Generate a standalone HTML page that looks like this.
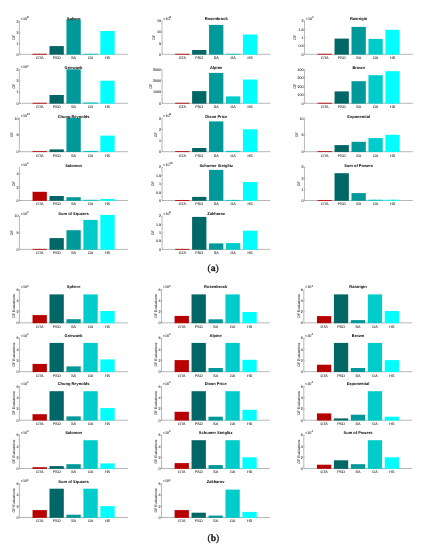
<!DOCTYPE html>
<html lang="en">
<head>
<meta charset="utf-8">
<title>Figure</title>
<style>
html,body{margin:0;padding:0;background:#fff;}
body{width:423px;height:550px;overflow:hidden;}
svg{display:block;text-rendering:geometricPrecision;}
.k{font-family:"Liberation Sans",Arial,sans-serif;font-size:3.7px;fill:#303030;stroke:#303030;stroke-width:0.08px;}
.y{font-family:"Liberation Sans",Arial,sans-serif;font-size:3.5px;fill:#303030;stroke:#303030;stroke-width:0.07px;}
.t{font-family:"Liberation Sans",Arial,sans-serif;font-size:4.0px;font-weight:bold;fill:#000;}
.l{font-family:"Liberation Serif","DejaVu Serif",serif;font-size:9.6px;fill:#111;stroke:#111;stroke-width:0.25px;}
</style>
</head>
<body>
<svg width="423" height="550" viewBox="0 0 423 550">
<rect width="423" height="550" fill="#fff"/>
<g><path d="M19.4 20.9V54.3H127.8" fill="none" stroke="#6e6e6e" stroke-width="0.5"/><rect x="32.55" y="53.8" width="14.3" height="0.85" fill="#b80000"/><rect x="49.5" y="46.1" width="14.3" height="8.55" fill="#006666"/><rect x="66.45" y="19.4" width="14.3" height="35.25" fill="#009999"/><rect x="83.4" y="53.8" width="14.3" height="0.85" fill="#00cccc"/><rect x="100.35" y="31" width="14.3" height="23.65" fill="#00ffff"/><text x="18.5" y="55.7" text-anchor="end" class="k">0</text><text x="18.5" y="44.93" text-anchor="end" class="k">1</text><text x="18.5" y="34.15" text-anchor="end" class="k">2</text><text x="18.5" y="23.38" text-anchor="end" class="k">3</text><text x="39.7" y="59.2" text-anchor="middle" class="k">GTA</text><text x="56.65" y="59.2" text-anchor="middle" class="k">PSO</text><text x="73.6" y="59.2" text-anchor="middle" class="k">SA</text><text x="90.55" y="59.2" text-anchor="middle" class="k">GA</text><text x="107.5" y="59.2" text-anchor="middle" class="k">HS</text><path d="M19.4 54.3h1M19.4 43.53h1M19.4 32.75h1M19.4 21.98h1M39.7 54.3v-1M56.65 54.3v-1M73.6 54.3v-1M90.55 54.3v-1M107.5 54.3v-1" fill="none" stroke="#6e6e6e" stroke-width="0.4"/><text x="20.7" y="19.65" class="k"><tspan font-size="3.2">×</tspan><tspan dx="0.3">10</tspan><tspan dy="-1.5" font-size="2.7">8</tspan></text><text x="73.6" y="20.1" text-anchor="middle" class="t">Sphere</text><text transform="translate(14.5 37.6) rotate(-90)" text-anchor="middle" class="y">OF</text></g>
<g><path d="M162 20.9V54.3H270.4" fill="none" stroke="#6e6e6e" stroke-width="0.5"/><rect x="175.15" y="53.8" width="14.3" height="0.85" fill="#b80000"/><rect x="192.1" y="50" width="14.3" height="4.65" fill="#006666"/><rect x="209.05" y="24.9" width="14.3" height="29.75" fill="#009999"/><rect x="226" y="53.8" width="14.3" height="0.85" fill="#00cccc"/><rect x="242.95" y="34.5" width="14.3" height="20.15" fill="#00ffff"/><text x="161.1" y="55.7" text-anchor="end" class="k">0</text><text x="161.1" y="44.57" text-anchor="end" class="k">5</text><text x="161.1" y="33.43" text-anchor="end" class="k">10</text><text x="161.1" y="22.3" text-anchor="end" class="k">15</text><text x="182.3" y="59.2" text-anchor="middle" class="k">GTA</text><text x="199.25" y="59.2" text-anchor="middle" class="k">PSO</text><text x="216.2" y="59.2" text-anchor="middle" class="k">SA</text><text x="233.15" y="59.2" text-anchor="middle" class="k">GA</text><text x="250.1" y="59.2" text-anchor="middle" class="k">HS</text><path d="M162 54.3h1M162 43.17h1M162 32.03h1M162 20.9h1M182.3 54.3v-1M199.25 54.3v-1M216.2 54.3v-1M233.15 54.3v-1M250.1 54.3v-1" fill="none" stroke="#6e6e6e" stroke-width="0.4"/><text x="163.3" y="19.65" class="k"><tspan font-size="3.2">×</tspan><tspan dx="0.3">10</tspan><tspan dy="-1.5" font-size="2.7">8</tspan></text><text x="216.2" y="20.1" text-anchor="middle" class="t">Rosenbrock</text><text transform="translate(155.4 37.6) rotate(-90)" text-anchor="middle" class="y">OF</text></g>
<g><path d="M304.45 20.9V54.3H412.85" fill="none" stroke="#6e6e6e" stroke-width="0.5"/><rect x="317.6" y="53.8" width="14.3" height="0.85" fill="#b80000"/><rect x="334.55" y="38.6" width="14.3" height="16.05" fill="#006666"/><rect x="351.5" y="26.9" width="14.3" height="27.75" fill="#009999"/><rect x="368.45" y="38.9" width="14.3" height="15.75" fill="#00cccc"/><rect x="385.4" y="29.8" width="14.3" height="24.85" fill="#00ffff"/><text x="303.55" y="55.7" text-anchor="end" class="k">0</text><text x="303.55" y="47.35" text-anchor="end" class="k">0.5</text><text x="303.55" y="39" text-anchor="end" class="k">1</text><text x="303.55" y="30.65" text-anchor="end" class="k">1.5</text><text x="303.55" y="22.3" text-anchor="end" class="k">2</text><text x="324.75" y="59.2" text-anchor="middle" class="k">GTA</text><text x="341.7" y="59.2" text-anchor="middle" class="k">PSO</text><text x="358.65" y="59.2" text-anchor="middle" class="k">SA</text><text x="375.6" y="59.2" text-anchor="middle" class="k">GA</text><text x="392.55" y="59.2" text-anchor="middle" class="k">HS</text><path d="M304.45 54.3h1M304.45 45.95h1M304.45 37.6h1M304.45 29.25h1M304.45 20.9h1M324.75 54.3v-1M341.7 54.3v-1M358.65 54.3v-1M375.6 54.3v-1M392.55 54.3v-1" fill="none" stroke="#6e6e6e" stroke-width="0.4"/><text x="305.75" y="19.65" class="k"><tspan font-size="3.2">×</tspan><tspan dx="0.3">10</tspan><tspan dy="-1.5" font-size="2.7">4</tspan></text><text x="358.65" y="20.1" text-anchor="middle" class="t">Rastrigin</text><text transform="translate(296.25 37.6) rotate(-90)" text-anchor="middle" class="y">OF</text></g>
<g><path d="M19.4 69.5V103.3H127.8" fill="none" stroke="#6e6e6e" stroke-width="0.5"/><rect x="32.55" y="102.8" width="14.3" height="0.85" fill="#b80000"/><rect x="49.5" y="95" width="14.3" height="8.65" fill="#006666"/><rect x="66.45" y="69.3" width="14.3" height="34.35" fill="#009999"/><rect x="83.4" y="102.5" width="14.3" height="1.15" fill="#00cccc"/><rect x="100.35" y="80.7" width="14.3" height="22.95" fill="#00ffff"/><text x="18.5" y="104.7" text-anchor="end" class="k">0</text><text x="18.5" y="93.43" text-anchor="end" class="k">1</text><text x="18.5" y="82.17" text-anchor="end" class="k">2</text><text x="18.5" y="70.9" text-anchor="end" class="k">3</text><text x="39.7" y="108.2" text-anchor="middle" class="k">GTA</text><text x="56.65" y="108.2" text-anchor="middle" class="k">PSO</text><text x="73.6" y="108.2" text-anchor="middle" class="k">SA</text><text x="90.55" y="108.2" text-anchor="middle" class="k">GA</text><text x="107.5" y="108.2" text-anchor="middle" class="k">HS</text><path d="M19.4 103.3h1M19.4 92.03h1M19.4 80.77h1M19.4 69.5h1M39.7 103.3v-1M56.65 103.3v-1M73.6 103.3v-1M90.55 103.3v-1M107.5 103.3v-1" fill="none" stroke="#6e6e6e" stroke-width="0.4"/><text x="20.7" y="68.25" class="k"><tspan font-size="3.2">×</tspan><tspan dx="0.3">10</tspan><tspan dy="-1.5" font-size="2.7">4</tspan></text><text x="73.6" y="68.8" text-anchor="middle" class="t">Griewank</text><text transform="translate(14.5 86.4) rotate(-90)" text-anchor="middle" class="y">OF</text></g>
<g><path d="M162 69.5V103.3H270.4" fill="none" stroke="#6e6e6e" stroke-width="0.5"/><rect x="175.15" y="102.8" width="14.3" height="0.85" fill="#b80000"/><rect x="192.1" y="91.1" width="14.3" height="12.55" fill="#006666"/><rect x="209.05" y="72.9" width="14.3" height="30.75" fill="#009999"/><rect x="226" y="96.4" width="14.3" height="7.25" fill="#00cccc"/><rect x="242.95" y="79.5" width="14.3" height="24.15" fill="#00ffff"/><text x="161.1" y="104.7" text-anchor="end" class="k">0</text><text x="161.1" y="93.43" text-anchor="end" class="k">1000</text><text x="161.1" y="82.17" text-anchor="end" class="k">2000</text><text x="161.1" y="70.9" text-anchor="end" class="k">3000</text><text x="182.3" y="108.2" text-anchor="middle" class="k">GTA</text><text x="199.25" y="108.2" text-anchor="middle" class="k">PSO</text><text x="216.2" y="108.2" text-anchor="middle" class="k">SA</text><text x="233.15" y="108.2" text-anchor="middle" class="k">GA</text><text x="250.1" y="108.2" text-anchor="middle" class="k">HS</text><path d="M162 103.3h1M162 92.03h1M162 80.77h1M162 69.5h1M182.3 103.3v-1M199.25 103.3v-1M216.2 103.3v-1M233.15 103.3v-1M250.1 103.3v-1" fill="none" stroke="#6e6e6e" stroke-width="0.4"/><text x="216.2" y="68.8" text-anchor="middle" class="t">Alpine</text><text transform="translate(151.6 86.4) rotate(-90)" text-anchor="middle" class="y">OF</text></g>
<g><path d="M304.45 69.5V103.3H412.85" fill="none" stroke="#6e6e6e" stroke-width="0.5"/><rect x="317.6" y="102.8" width="14.3" height="0.85" fill="#b80000"/><rect x="334.55" y="91.4" width="14.3" height="12.25" fill="#006666"/><rect x="351.5" y="81.2" width="14.3" height="22.45" fill="#009999"/><rect x="368.45" y="75.2" width="14.3" height="28.45" fill="#00cccc"/><rect x="385.4" y="71.2" width="14.3" height="32.45" fill="#00ffff"/><text x="303.55" y="104.7" text-anchor="end" class="k">0</text><text x="303.55" y="96.25" text-anchor="end" class="k">100</text><text x="303.55" y="87.8" text-anchor="end" class="k">200</text><text x="303.55" y="79.35" text-anchor="end" class="k">300</text><text x="303.55" y="70.9" text-anchor="end" class="k">400</text><text x="324.75" y="108.2" text-anchor="middle" class="k">GTA</text><text x="341.7" y="108.2" text-anchor="middle" class="k">PSO</text><text x="358.65" y="108.2" text-anchor="middle" class="k">SA</text><text x="375.6" y="108.2" text-anchor="middle" class="k">GA</text><text x="392.55" y="108.2" text-anchor="middle" class="k">HS</text><path d="M304.45 103.3h1M304.45 94.85h1M304.45 86.4h1M304.45 77.95h1M304.45 69.5h1M324.75 103.3v-1M341.7 103.3v-1M358.65 103.3v-1M375.6 103.3v-1M392.55 103.3v-1" fill="none" stroke="#6e6e6e" stroke-width="0.4"/><text x="358.65" y="68.8" text-anchor="middle" class="t">Brown</text><text transform="translate(296.15 86.4) rotate(-90)" text-anchor="middle" class="y">OF</text></g>
<g><path d="M19.4 118.1V151.7H127.8" fill="none" stroke="#6e6e6e" stroke-width="0.5"/><rect x="32.55" y="151.2" width="14.3" height="0.85" fill="#b80000"/><rect x="49.5" y="149.4" width="14.3" height="2.65" fill="#006666"/><rect x="66.45" y="117.9" width="14.3" height="34.15" fill="#009999"/><rect x="83.4" y="150.9" width="14.3" height="1.15" fill="#00cccc"/><rect x="100.35" y="135.6" width="14.3" height="16.45" fill="#00ffff"/><text x="18.5" y="153.1" text-anchor="end" class="k">0</text><text x="18.5" y="136.3" text-anchor="end" class="k">5</text><text x="18.5" y="119.5" text-anchor="end" class="k">10</text><text x="39.7" y="156.6" text-anchor="middle" class="k">GTA</text><text x="56.65" y="156.6" text-anchor="middle" class="k">PSO</text><text x="73.6" y="156.6" text-anchor="middle" class="k">SA</text><text x="90.55" y="156.6" text-anchor="middle" class="k">GA</text><text x="107.5" y="156.6" text-anchor="middle" class="k">HS</text><path d="M19.4 151.7h1M19.4 134.9h1M19.4 118.1h1M39.7 151.7v-1M56.65 151.7v-1M73.6 151.7v-1M90.55 151.7v-1M107.5 151.7v-1" fill="none" stroke="#6e6e6e" stroke-width="0.4"/><text x="20.7" y="116.85" class="k"><tspan font-size="3.2">×</tspan><tspan dx="0.3">10</tspan><tspan dy="-1.5" font-size="2.7">12</tspan></text><text x="73.6" y="117.5" text-anchor="middle" class="t">Chung Reynolds</text><text transform="translate(12.8 134.9) rotate(-90)" text-anchor="middle" class="y">OF</text></g>
<g><path d="M162 118.1V151.7H270.4" fill="none" stroke="#6e6e6e" stroke-width="0.5"/><rect x="175.15" y="151.2" width="14.3" height="0.85" fill="#b80000"/><rect x="192.1" y="148" width="14.3" height="4.05" fill="#006666"/><rect x="209.05" y="121.4" width="14.3" height="30.65" fill="#009999"/><rect x="226" y="150.8" width="14.3" height="1.25" fill="#00cccc"/><rect x="242.95" y="129.3" width="14.3" height="22.75" fill="#00ffff"/><text x="161.1" y="153.1" text-anchor="end" class="k">0</text><text x="161.1" y="141.9" text-anchor="end" class="k">1</text><text x="161.1" y="130.7" text-anchor="end" class="k">2</text><text x="161.1" y="119.5" text-anchor="end" class="k">3</text><text x="182.3" y="156.6" text-anchor="middle" class="k">GTA</text><text x="199.25" y="156.6" text-anchor="middle" class="k">PSO</text><text x="216.2" y="156.6" text-anchor="middle" class="k">SA</text><text x="233.15" y="156.6" text-anchor="middle" class="k">GA</text><text x="250.1" y="156.6" text-anchor="middle" class="k">HS</text><path d="M162 151.7h1M162 140.5h1M162 129.3h1M162 118.1h1M182.3 151.7v-1M199.25 151.7v-1M216.2 151.7v-1M233.15 151.7v-1M250.1 151.7v-1" fill="none" stroke="#6e6e6e" stroke-width="0.4"/><text x="163.3" y="116.85" class="k"><tspan font-size="3.2">×</tspan><tspan dx="0.3">10</tspan><tspan dy="-1.5" font-size="2.7">8</tspan></text><text x="216.2" y="117.5" text-anchor="middle" class="t">Dixon Price</text><text transform="translate(157.1 134.9) rotate(-90)" text-anchor="middle" class="y">OF</text></g>
<g><path d="M304.45 118.1V151.7H412.85" fill="none" stroke="#6e6e6e" stroke-width="0.5"/><rect x="317.6" y="151.2" width="14.3" height="0.85" fill="#b80000"/><rect x="334.55" y="145.1" width="14.3" height="6.95" fill="#006666"/><rect x="351.5" y="141.8" width="14.3" height="10.25" fill="#009999"/><rect x="368.45" y="138.1" width="14.3" height="13.95" fill="#00cccc"/><rect x="385.4" y="134.8" width="14.3" height="17.25" fill="#00ffff"/><text x="303.55" y="153.1" text-anchor="end" class="k">0</text><text x="303.55" y="136.3" text-anchor="end" class="k">5</text><text x="303.55" y="119.5" text-anchor="end" class="k">10</text><text x="324.75" y="156.6" text-anchor="middle" class="k">GTA</text><text x="341.7" y="156.6" text-anchor="middle" class="k">PSO</text><text x="358.65" y="156.6" text-anchor="middle" class="k">SA</text><text x="375.6" y="156.6" text-anchor="middle" class="k">GA</text><text x="392.55" y="156.6" text-anchor="middle" class="k">HS</text><path d="M304.45 151.7h1M304.45 134.9h1M304.45 118.1h1M324.75 151.7v-1M341.7 151.7v-1M358.65 151.7v-1M375.6 151.7v-1M392.55 151.7v-1" fill="none" stroke="#6e6e6e" stroke-width="0.4"/><text x="358.65" y="117.5" text-anchor="middle" class="t">Exponential</text><text transform="translate(297.85 134.9) rotate(-90)" text-anchor="middle" class="y">OF</text></g>
<g><path d="M19.4 167V200.5H127.8" fill="none" stroke="#6e6e6e" stroke-width="0.5"/><rect x="32.55" y="191.8" width="14.3" height="9.05" fill="#b80000"/><rect x="49.5" y="196" width="14.3" height="4.85" fill="#006666"/><rect x="66.45" y="197.2" width="14.3" height="3.65" fill="#009999"/><rect x="83.4" y="199.8" width="14.3" height="1.05" fill="#00cccc"/><rect x="100.35" y="198.9" width="14.3" height="1.95" fill="#00ffff"/><text x="18.5" y="201.9" text-anchor="end" class="k">0</text><text x="18.5" y="188.5" text-anchor="end" class="k">2</text><text x="18.5" y="175.1" text-anchor="end" class="k">4</text><text x="39.7" y="205.4" text-anchor="middle" class="k">GTA</text><text x="56.65" y="205.4" text-anchor="middle" class="k">PSO</text><text x="73.6" y="205.4" text-anchor="middle" class="k">SA</text><text x="90.55" y="205.4" text-anchor="middle" class="k">GA</text><text x="107.5" y="205.4" text-anchor="middle" class="k">HS</text><path d="M19.4 200.5h1M19.4 187.1h1M19.4 173.7h1M39.7 200.5v-1M56.65 200.5v-1M73.6 200.5v-1M90.55 200.5v-1M107.5 200.5v-1" fill="none" stroke="#6e6e6e" stroke-width="0.4"/><text x="20.7" y="165.75" class="k"><tspan font-size="3.2">×</tspan><tspan dx="0.3">10</tspan><tspan dy="-1.5" font-size="2.7">4</tspan></text><text x="73.6" y="166.5" text-anchor="middle" class="t">Salomon</text><text transform="translate(14.5 183.75) rotate(-90)" text-anchor="middle" class="y">OF</text></g>
<g><path d="M162 167V200.5H270.4" fill="none" stroke="#6e6e6e" stroke-width="0.5"/><rect x="175.15" y="200" width="14.3" height="0.85" fill="#b80000"/><rect x="192.1" y="196.9" width="14.3" height="3.95" fill="#006666"/><rect x="209.05" y="169.9" width="14.3" height="30.95" fill="#009999"/><rect x="226" y="199.9" width="14.3" height="0.95" fill="#00cccc"/><rect x="242.95" y="182" width="14.3" height="18.85" fill="#00ffff"/><text x="161.1" y="201.9" text-anchor="end" class="k">0</text><text x="161.1" y="193.53" text-anchor="end" class="k">0.5</text><text x="161.1" y="185.15" text-anchor="end" class="k">1</text><text x="161.1" y="176.78" text-anchor="end" class="k">1.5</text><text x="161.1" y="168.4" text-anchor="end" class="k">2</text><text x="182.3" y="205.4" text-anchor="middle" class="k">GTA</text><text x="199.25" y="205.4" text-anchor="middle" class="k">PSO</text><text x="216.2" y="205.4" text-anchor="middle" class="k">SA</text><text x="233.15" y="205.4" text-anchor="middle" class="k">GA</text><text x="250.1" y="205.4" text-anchor="middle" class="k">HS</text><path d="M162 200.5h1M162 192.12h1M162 183.75h1M162 175.38h1M162 167h1M182.3 200.5v-1M199.25 200.5v-1M216.2 200.5v-1M233.15 200.5v-1M250.1 200.5v-1" fill="none" stroke="#6e6e6e" stroke-width="0.4"/><text x="163.3" y="165.75" class="k"><tspan font-size="3.2">×</tspan><tspan dx="0.3">10</tspan><tspan dy="-1.5" font-size="2.7">10</tspan></text><text x="216.2" y="166.5" text-anchor="middle" class="t">Schumer Steiglitz</text><text transform="translate(153.8 183.75) rotate(-90)" text-anchor="middle" class="y">OF</text></g>
<g><path d="M304.45 167V200.5H412.85" fill="none" stroke="#6e6e6e" stroke-width="0.5"/><rect x="317.6" y="200" width="14.3" height="0.85" fill="#b80000"/><rect x="334.55" y="173.2" width="14.3" height="27.65" fill="#006666"/><rect x="351.5" y="193.1" width="14.3" height="7.75" fill="#009999"/><rect x="368.45" y="199.7" width="14.3" height="1.15" fill="#00cccc"/><rect x="385.4" y="199.7" width="14.3" height="1.15" fill="#00ffff"/><text x="303.55" y="201.9" text-anchor="end" class="k">0</text><text x="303.55" y="190.73" text-anchor="end" class="k">1</text><text x="303.55" y="179.57" text-anchor="end" class="k">2</text><text x="303.55" y="168.4" text-anchor="end" class="k">3</text><text x="324.75" y="205.4" text-anchor="middle" class="k">GTA</text><text x="341.7" y="205.4" text-anchor="middle" class="k">PSO</text><text x="358.65" y="205.4" text-anchor="middle" class="k">SA</text><text x="375.6" y="205.4" text-anchor="middle" class="k">GA</text><text x="392.55" y="205.4" text-anchor="middle" class="k">HS</text><path d="M304.45 200.5h1M304.45 189.33h1M304.45 178.17h1M304.45 167h1M324.75 200.5v-1M341.7 200.5v-1M358.65 200.5v-1M375.6 200.5v-1M392.55 200.5v-1" fill="none" stroke="#6e6e6e" stroke-width="0.4"/><text x="358.65" y="166.5" text-anchor="middle" class="t">Sum of Powers</text><text transform="translate(299.55 183.75) rotate(-90)" text-anchor="middle" class="y">OF</text></g>
<g><path d="M19.4 216V249.4H127.8" fill="none" stroke="#6e6e6e" stroke-width="0.5"/><rect x="32.55" y="248.9" width="14.3" height="0.85" fill="#b80000"/><rect x="49.5" y="238.1" width="14.3" height="11.65" fill="#006666"/><rect x="66.45" y="230.2" width="14.3" height="19.55" fill="#009999"/><rect x="83.4" y="219.9" width="14.3" height="29.85" fill="#00cccc"/><rect x="100.35" y="214.9" width="14.3" height="34.85" fill="#00ffff"/><text x="18.5" y="250.8" text-anchor="end" class="k">0</text><text x="18.5" y="234.1" text-anchor="end" class="k">5</text><text x="18.5" y="217.4" text-anchor="end" class="k">10</text><text x="39.7" y="254.3" text-anchor="middle" class="k">GTA</text><text x="56.65" y="254.3" text-anchor="middle" class="k">PSO</text><text x="73.6" y="254.3" text-anchor="middle" class="k">SA</text><text x="90.55" y="254.3" text-anchor="middle" class="k">GA</text><text x="107.5" y="254.3" text-anchor="middle" class="k">HS</text><path d="M19.4 249.4h1M19.4 232.7h1M19.4 216h1M39.7 249.4v-1M56.65 249.4v-1M73.6 249.4v-1M90.55 249.4v-1M107.5 249.4v-1" fill="none" stroke="#6e6e6e" stroke-width="0.4"/><text x="20.7" y="214.75" class="k"><tspan font-size="3.2">×</tspan><tspan dx="0.3">10</tspan><tspan dy="-1.5" font-size="2.7">4</tspan></text><text x="73.6" y="215" text-anchor="middle" class="t">Sum of Squares</text><text transform="translate(12.8 232.7) rotate(-90)" text-anchor="middle" class="y">OF</text></g>
<g><path d="M162 216V249.4H270.4" fill="none" stroke="#6e6e6e" stroke-width="0.5"/><rect x="175.15" y="248.9" width="14.3" height="0.85" fill="#b80000"/><rect x="192.1" y="216.9" width="14.3" height="32.85" fill="#006666"/><rect x="209.05" y="243.4" width="14.3" height="6.35" fill="#009999"/><rect x="226" y="243.1" width="14.3" height="6.65" fill="#00cccc"/><rect x="242.95" y="230.7" width="14.3" height="19.05" fill="#00ffff"/><text x="161.1" y="250.8" text-anchor="end" class="k">0</text><text x="161.1" y="242.45" text-anchor="end" class="k">0.5</text><text x="161.1" y="234.1" text-anchor="end" class="k">1</text><text x="161.1" y="225.75" text-anchor="end" class="k">1.5</text><text x="161.1" y="217.4" text-anchor="end" class="k">2</text><text x="182.3" y="254.3" text-anchor="middle" class="k">GTA</text><text x="199.25" y="254.3" text-anchor="middle" class="k">PSO</text><text x="216.2" y="254.3" text-anchor="middle" class="k">SA</text><text x="233.15" y="254.3" text-anchor="middle" class="k">GA</text><text x="250.1" y="254.3" text-anchor="middle" class="k">HS</text><path d="M162 249.4h1M162 241.05h1M162 232.7h1M162 224.35h1M162 216h1M182.3 249.4v-1M199.25 249.4v-1M216.2 249.4v-1M233.15 249.4v-1M250.1 249.4v-1" fill="none" stroke="#6e6e6e" stroke-width="0.4"/><text x="163.3" y="214.75" class="k"><tspan font-size="3.2">×</tspan><tspan dx="0.3">10</tspan><tspan dy="-1.5" font-size="2.7">6</tspan></text><text x="216.2" y="215" text-anchor="middle" class="t">Zakharov</text><text transform="translate(153.8 232.7) rotate(-90)" text-anchor="middle" class="y">OF</text></g>
<g><path d="M19.4 289.4V322.85H127.8" fill="none" stroke="#6e6e6e" stroke-width="0.5"/><rect x="32.55" y="315.1" width="14.3" height="8.1" fill="#b80000"/><rect x="49.5" y="294.4" width="14.3" height="28.8" fill="#006666"/><rect x="66.45" y="319.2" width="14.3" height="4" fill="#009999"/><rect x="83.4" y="294.4" width="14.3" height="28.8" fill="#00cccc"/><rect x="100.35" y="311" width="14.3" height="12.2" fill="#00ffff"/><text x="18.5" y="324.25" text-anchor="end" class="k">0</text><text x="18.5" y="313.1" text-anchor="end" class="k">2</text><text x="18.5" y="301.95" text-anchor="end" class="k">4</text><text x="18.5" y="290.8" text-anchor="end" class="k">6</text><text x="39.7" y="327.75" text-anchor="middle" class="k">GTA</text><text x="56.65" y="327.75" text-anchor="middle" class="k">PSO</text><text x="73.6" y="327.75" text-anchor="middle" class="k">SA</text><text x="90.55" y="327.75" text-anchor="middle" class="k">GA</text><text x="107.5" y="327.75" text-anchor="middle" class="k">HS</text><path d="M19.4 322.85h1M19.4 311.7h1M19.4 300.55h1M19.4 289.4h1M39.7 322.85v-1M56.65 322.85v-1M73.6 322.85v-1M90.55 322.85v-1M107.5 322.85v-1" fill="none" stroke="#6e6e6e" stroke-width="0.4"/><text x="20.7" y="288.15" class="k"><tspan font-size="3.2">×</tspan><tspan dx="0.3">10</tspan><tspan dy="-1.5" font-size="2.7">4</tspan></text><text x="73.6" y="287.5" text-anchor="middle" class="t">Sphere</text><text transform="translate(15.1 306.12) rotate(-90)" text-anchor="middle" class="y">OF Evaluations</text></g>
<g><path d="M161.45 289.4V322.85H269.85" fill="none" stroke="#6e6e6e" stroke-width="0.5"/><rect x="174.6" y="315.9" width="14.3" height="7.3" fill="#b80000"/><rect x="191.55" y="294.4" width="14.3" height="28.8" fill="#006666"/><rect x="208.5" y="319.3" width="14.3" height="3.9" fill="#009999"/><rect x="225.45" y="294.4" width="14.3" height="28.8" fill="#00cccc"/><rect x="242.4" y="312" width="14.3" height="11.2" fill="#00ffff"/><text x="160.55" y="324.25" text-anchor="end" class="k">0</text><text x="160.55" y="313.1" text-anchor="end" class="k">2</text><text x="160.55" y="301.95" text-anchor="end" class="k">4</text><text x="160.55" y="290.8" text-anchor="end" class="k">6</text><text x="181.75" y="327.75" text-anchor="middle" class="k">GTA</text><text x="198.7" y="327.75" text-anchor="middle" class="k">PSO</text><text x="215.65" y="327.75" text-anchor="middle" class="k">SA</text><text x="232.6" y="327.75" text-anchor="middle" class="k">GA</text><text x="249.55" y="327.75" text-anchor="middle" class="k">HS</text><path d="M161.45 322.85h1M161.45 311.7h1M161.45 300.55h1M161.45 289.4h1M181.75 322.85v-1M198.7 322.85v-1M215.65 322.85v-1M232.6 322.85v-1M249.55 322.85v-1" fill="none" stroke="#6e6e6e" stroke-width="0.4"/><text x="162.75" y="288.15" class="k"><tspan font-size="3.2">×</tspan><tspan dx="0.3">10</tspan><tspan dy="-1.5" font-size="2.7">4</tspan></text><text x="215.65" y="287.5" text-anchor="middle" class="t">Rosenbrock</text><text transform="translate(157.15 306.12) rotate(-90)" text-anchor="middle" class="y">OF Evaluations</text></g>
<g><path d="M303.8 289.4V322.85H412.2" fill="none" stroke="#6e6e6e" stroke-width="0.5"/><rect x="316.95" y="316.1" width="14.3" height="7.1" fill="#b80000"/><rect x="333.9" y="294.4" width="14.3" height="28.8" fill="#006666"/><rect x="350.85" y="320.1" width="14.3" height="3.1" fill="#009999"/><rect x="367.8" y="294.4" width="14.3" height="28.8" fill="#00cccc"/><rect x="384.75" y="311" width="14.3" height="12.2" fill="#00ffff"/><text x="302.9" y="324.25" text-anchor="end" class="k">0</text><text x="302.9" y="313.1" text-anchor="end" class="k">2</text><text x="302.9" y="301.95" text-anchor="end" class="k">4</text><text x="302.9" y="290.8" text-anchor="end" class="k">6</text><text x="324.1" y="327.75" text-anchor="middle" class="k">GTA</text><text x="341.05" y="327.75" text-anchor="middle" class="k">PSO</text><text x="358" y="327.75" text-anchor="middle" class="k">SA</text><text x="374.95" y="327.75" text-anchor="middle" class="k">GA</text><text x="391.9" y="327.75" text-anchor="middle" class="k">HS</text><path d="M303.8 322.85h1M303.8 311.7h1M303.8 300.55h1M303.8 289.4h1M324.1 322.85v-1M341.05 322.85v-1M358 322.85v-1M374.95 322.85v-1M391.9 322.85v-1" fill="none" stroke="#6e6e6e" stroke-width="0.4"/><text x="305.1" y="288.15" class="k"><tspan font-size="3.2">×</tspan><tspan dx="0.3">10</tspan><tspan dy="-1.5" font-size="2.7">4</tspan></text><text x="358" y="287.5" text-anchor="middle" class="t">Rastrigin</text><text transform="translate(299.5 306.12) rotate(-90)" text-anchor="middle" class="y">OF Evaluations</text></g>
<g><path d="M19.4 337.9V371.7H127.8" fill="none" stroke="#6e6e6e" stroke-width="0.5"/><rect x="32.55" y="363.9" width="14.3" height="8.15" fill="#b80000"/><rect x="49.5" y="342.9" width="14.3" height="29.15" fill="#006666"/><rect x="66.45" y="366.4" width="14.3" height="5.65" fill="#009999"/><rect x="83.4" y="342.9" width="14.3" height="29.15" fill="#00cccc"/><rect x="100.35" y="359.4" width="14.3" height="12.65" fill="#00ffff"/><text x="18.5" y="373.1" text-anchor="end" class="k">0</text><text x="18.5" y="361.83" text-anchor="end" class="k">2</text><text x="18.5" y="350.57" text-anchor="end" class="k">4</text><text x="18.5" y="339.3" text-anchor="end" class="k">6</text><text x="39.7" y="376.6" text-anchor="middle" class="k">GTA</text><text x="56.65" y="376.6" text-anchor="middle" class="k">PSO</text><text x="73.6" y="376.6" text-anchor="middle" class="k">SA</text><text x="90.55" y="376.6" text-anchor="middle" class="k">GA</text><text x="107.5" y="376.6" text-anchor="middle" class="k">HS</text><path d="M19.4 371.7h1M19.4 360.43h1M19.4 349.17h1M19.4 337.9h1M39.7 371.7v-1M56.65 371.7v-1M73.6 371.7v-1M90.55 371.7v-1M107.5 371.7v-1" fill="none" stroke="#6e6e6e" stroke-width="0.4"/><text x="20.7" y="336.65" class="k"><tspan font-size="3.2">×</tspan><tspan dx="0.3">10</tspan><tspan dy="-1.5" font-size="2.7">4</tspan></text><text x="73.6" y="336.9" text-anchor="middle" class="t">Griewank</text><text transform="translate(15.1 354.8) rotate(-90)" text-anchor="middle" class="y">OF Evaluations</text></g>
<g><path d="M161.45 337.9V371.7H269.85" fill="none" stroke="#6e6e6e" stroke-width="0.5"/><rect x="174.6" y="360.1" width="14.3" height="11.95" fill="#b80000"/><rect x="191.55" y="342.9" width="14.3" height="29.15" fill="#006666"/><rect x="208.5" y="368" width="14.3" height="4.05" fill="#009999"/><rect x="225.45" y="342.9" width="14.3" height="29.15" fill="#00cccc"/><rect x="242.4" y="359.8" width="14.3" height="12.25" fill="#00ffff"/><text x="160.55" y="373.1" text-anchor="end" class="k">0</text><text x="160.55" y="361.83" text-anchor="end" class="k">2</text><text x="160.55" y="350.57" text-anchor="end" class="k">4</text><text x="160.55" y="339.3" text-anchor="end" class="k">6</text><text x="181.75" y="376.6" text-anchor="middle" class="k">GTA</text><text x="198.7" y="376.6" text-anchor="middle" class="k">PSO</text><text x="215.65" y="376.6" text-anchor="middle" class="k">SA</text><text x="232.6" y="376.6" text-anchor="middle" class="k">GA</text><text x="249.55" y="376.6" text-anchor="middle" class="k">HS</text><path d="M161.45 371.7h1M161.45 360.43h1M161.45 349.17h1M161.45 337.9h1M181.75 371.7v-1M198.7 371.7v-1M215.65 371.7v-1M232.6 371.7v-1M249.55 371.7v-1" fill="none" stroke="#6e6e6e" stroke-width="0.4"/><text x="162.75" y="336.65" class="k"><tspan font-size="3.2">×</tspan><tspan dx="0.3">10</tspan><tspan dy="-1.5" font-size="2.7">4</tspan></text><text x="215.65" y="336.9" text-anchor="middle" class="t">Alpine</text><text transform="translate(157.15 354.8) rotate(-90)" text-anchor="middle" class="y">OF Evaluations</text></g>
<g><path d="M303.8 337.9V371.7H412.2" fill="none" stroke="#6e6e6e" stroke-width="0.5"/><rect x="316.95" y="364.7" width="14.3" height="7.35" fill="#b80000"/><rect x="333.9" y="342.9" width="14.3" height="29.15" fill="#006666"/><rect x="350.85" y="368" width="14.3" height="4.05" fill="#009999"/><rect x="367.8" y="342.9" width="14.3" height="29.15" fill="#00cccc"/><rect x="384.75" y="360.1" width="14.3" height="11.95" fill="#00ffff"/><text x="302.9" y="373.1" text-anchor="end" class="k">0</text><text x="302.9" y="361.83" text-anchor="end" class="k">2</text><text x="302.9" y="350.57" text-anchor="end" class="k">4</text><text x="302.9" y="339.3" text-anchor="end" class="k">6</text><text x="324.1" y="376.6" text-anchor="middle" class="k">GTA</text><text x="341.05" y="376.6" text-anchor="middle" class="k">PSO</text><text x="358" y="376.6" text-anchor="middle" class="k">SA</text><text x="374.95" y="376.6" text-anchor="middle" class="k">GA</text><text x="391.9" y="376.6" text-anchor="middle" class="k">HS</text><path d="M303.8 371.7h1M303.8 360.43h1M303.8 349.17h1M303.8 337.9h1M324.1 371.7v-1M341.05 371.7v-1M358 371.7v-1M374.95 371.7v-1M391.9 371.7v-1" fill="none" stroke="#6e6e6e" stroke-width="0.4"/><text x="305.1" y="336.65" class="k"><tspan font-size="3.2">×</tspan><tspan dx="0.3">10</tspan><tspan dy="-1.5" font-size="2.7">4</tspan></text><text x="358" y="336.9" text-anchor="middle" class="t">Brown</text><text transform="translate(299.5 354.8) rotate(-90)" text-anchor="middle" class="y">OF Evaluations</text></g>
<g><path d="M19.4 386.1V420.2H127.8" fill="none" stroke="#6e6e6e" stroke-width="0.5"/><rect x="32.55" y="414.2" width="14.3" height="6.35" fill="#b80000"/><rect x="49.5" y="391.2" width="14.3" height="29.35" fill="#006666"/><rect x="66.45" y="416.4" width="14.3" height="4.15" fill="#009999"/><rect x="83.4" y="391.2" width="14.3" height="29.35" fill="#00cccc"/><rect x="100.35" y="408.1" width="14.3" height="12.45" fill="#00ffff"/><text x="18.5" y="421.6" text-anchor="end" class="k">0</text><text x="18.5" y="410.23" text-anchor="end" class="k">2</text><text x="18.5" y="398.87" text-anchor="end" class="k">4</text><text x="18.5" y="387.5" text-anchor="end" class="k">6</text><text x="39.7" y="425.1" text-anchor="middle" class="k">GTA</text><text x="56.65" y="425.1" text-anchor="middle" class="k">PSO</text><text x="73.6" y="425.1" text-anchor="middle" class="k">SA</text><text x="90.55" y="425.1" text-anchor="middle" class="k">GA</text><text x="107.5" y="425.1" text-anchor="middle" class="k">HS</text><path d="M19.4 420.2h1M19.4 408.83h1M19.4 397.47h1M19.4 386.1h1M39.7 420.2v-1M56.65 420.2v-1M73.6 420.2v-1M90.55 420.2v-1M107.5 420.2v-1" fill="none" stroke="#6e6e6e" stroke-width="0.4"/><text x="20.7" y="384.85" class="k"><tspan font-size="3.2">×</tspan><tspan dx="0.3">10</tspan><tspan dy="-1.5" font-size="2.7">4</tspan></text><text x="73.6" y="385.3" text-anchor="middle" class="t">Chung Reynolds</text><text transform="translate(15.1 403.15) rotate(-90)" text-anchor="middle" class="y">OF Evaluations</text></g>
<g><path d="M161.45 386.1V420.2H269.85" fill="none" stroke="#6e6e6e" stroke-width="0.5"/><rect x="174.6" y="411.8" width="14.3" height="8.75" fill="#b80000"/><rect x="191.55" y="391.2" width="14.3" height="29.35" fill="#006666"/><rect x="208.5" y="416.7" width="14.3" height="3.85" fill="#009999"/><rect x="225.45" y="391.2" width="14.3" height="29.35" fill="#00cccc"/><rect x="242.4" y="409.8" width="14.3" height="10.75" fill="#00ffff"/><text x="160.55" y="421.6" text-anchor="end" class="k">0</text><text x="160.55" y="410.23" text-anchor="end" class="k">2</text><text x="160.55" y="398.87" text-anchor="end" class="k">4</text><text x="160.55" y="387.5" text-anchor="end" class="k">6</text><text x="181.75" y="425.1" text-anchor="middle" class="k">GTA</text><text x="198.7" y="425.1" text-anchor="middle" class="k">PSO</text><text x="215.65" y="425.1" text-anchor="middle" class="k">SA</text><text x="232.6" y="425.1" text-anchor="middle" class="k">GA</text><text x="249.55" y="425.1" text-anchor="middle" class="k">HS</text><path d="M161.45 420.2h1M161.45 408.83h1M161.45 397.47h1M161.45 386.1h1M181.75 420.2v-1M198.7 420.2v-1M215.65 420.2v-1M232.6 420.2v-1M249.55 420.2v-1" fill="none" stroke="#6e6e6e" stroke-width="0.4"/><text x="162.75" y="384.85" class="k"><tspan font-size="3.2">×</tspan><tspan dx="0.3">10</tspan><tspan dy="-1.5" font-size="2.7">4</tspan></text><text x="215.65" y="385.3" text-anchor="middle" class="t">Dixon Price</text><text transform="translate(157.15 403.15) rotate(-90)" text-anchor="middle" class="y">OF Evaluations</text></g>
<g><path d="M303.8 386.1V420.2H412.2" fill="none" stroke="#6e6e6e" stroke-width="0.5"/><rect x="316.95" y="413.4" width="14.3" height="7.15" fill="#b80000"/><rect x="333.9" y="418.4" width="14.3" height="2.15" fill="#006666"/><rect x="350.85" y="414.7" width="14.3" height="5.85" fill="#009999"/><rect x="367.8" y="391.2" width="14.3" height="29.35" fill="#00cccc"/><rect x="384.75" y="416.7" width="14.3" height="3.85" fill="#00ffff"/><text x="302.9" y="421.6" text-anchor="end" class="k">0</text><text x="302.9" y="410.23" text-anchor="end" class="k">2</text><text x="302.9" y="398.87" text-anchor="end" class="k">4</text><text x="302.9" y="387.5" text-anchor="end" class="k">6</text><text x="324.1" y="425.1" text-anchor="middle" class="k">GTA</text><text x="341.05" y="425.1" text-anchor="middle" class="k">PSO</text><text x="358" y="425.1" text-anchor="middle" class="k">SA</text><text x="374.95" y="425.1" text-anchor="middle" class="k">GA</text><text x="391.9" y="425.1" text-anchor="middle" class="k">HS</text><path d="M303.8 420.2h1M303.8 408.83h1M303.8 397.47h1M303.8 386.1h1M324.1 420.2v-1M341.05 420.2v-1M358 420.2v-1M374.95 420.2v-1M391.9 420.2v-1" fill="none" stroke="#6e6e6e" stroke-width="0.4"/><text x="305.1" y="384.85" class="k"><tspan font-size="3.2">×</tspan><tspan dx="0.3">10</tspan><tspan dy="-1.5" font-size="2.7">4</tspan></text><text x="358" y="385.3" text-anchor="middle" class="t">Exponential</text><text transform="translate(299.5 403.15) rotate(-90)" text-anchor="middle" class="y">OF Evaluations</text></g>
<g><path d="M19.4 434.9V468.5H127.8" fill="none" stroke="#6e6e6e" stroke-width="0.5"/><rect x="32.55" y="467.2" width="14.3" height="1.65" fill="#b80000"/><rect x="49.5" y="466.1" width="14.3" height="2.75" fill="#006666"/><rect x="66.45" y="464.2" width="14.3" height="4.65" fill="#009999"/><rect x="83.4" y="440.2" width="14.3" height="28.65" fill="#00cccc"/><rect x="100.35" y="463.4" width="14.3" height="5.45" fill="#00ffff"/><text x="18.5" y="469.9" text-anchor="end" class="k">0</text><text x="18.5" y="458.7" text-anchor="end" class="k">2</text><text x="18.5" y="447.5" text-anchor="end" class="k">4</text><text x="18.5" y="436.3" text-anchor="end" class="k">6</text><text x="39.7" y="473.4" text-anchor="middle" class="k">GTA</text><text x="56.65" y="473.4" text-anchor="middle" class="k">PSO</text><text x="73.6" y="473.4" text-anchor="middle" class="k">SA</text><text x="90.55" y="473.4" text-anchor="middle" class="k">GA</text><text x="107.5" y="473.4" text-anchor="middle" class="k">HS</text><path d="M19.4 468.5h1M19.4 457.3h1M19.4 446.1h1M19.4 434.9h1M39.7 468.5v-1M56.65 468.5v-1M73.6 468.5v-1M90.55 468.5v-1M107.5 468.5v-1" fill="none" stroke="#6e6e6e" stroke-width="0.4"/><text x="20.7" y="433.65" class="k"><tspan font-size="3.2">×</tspan><tspan dx="0.3">10</tspan><tspan dy="-1.5" font-size="2.7">4</tspan></text><text x="73.6" y="434.1" text-anchor="middle" class="t">Salomon</text><text transform="translate(15.1 451.7) rotate(-90)" text-anchor="middle" class="y">OF Evaluations</text></g>
<g><path d="M161.45 434.9V468.5H269.85" fill="none" stroke="#6e6e6e" stroke-width="0.5"/><rect x="174.6" y="463.1" width="14.3" height="5.75" fill="#b80000"/><rect x="191.55" y="440.2" width="14.3" height="28.65" fill="#006666"/><rect x="208.5" y="465.1" width="14.3" height="3.75" fill="#009999"/><rect x="225.45" y="440.2" width="14.3" height="28.65" fill="#00cccc"/><rect x="242.4" y="457.3" width="14.3" height="11.55" fill="#00ffff"/><text x="160.55" y="469.9" text-anchor="end" class="k">0</text><text x="160.55" y="458.7" text-anchor="end" class="k">2</text><text x="160.55" y="447.5" text-anchor="end" class="k">4</text><text x="160.55" y="436.3" text-anchor="end" class="k">6</text><text x="181.75" y="473.4" text-anchor="middle" class="k">GTA</text><text x="198.7" y="473.4" text-anchor="middle" class="k">PSO</text><text x="215.65" y="473.4" text-anchor="middle" class="k">SA</text><text x="232.6" y="473.4" text-anchor="middle" class="k">GA</text><text x="249.55" y="473.4" text-anchor="middle" class="k">HS</text><path d="M161.45 468.5h1M161.45 457.3h1M161.45 446.1h1M161.45 434.9h1M181.75 468.5v-1M198.7 468.5v-1M215.65 468.5v-1M232.6 468.5v-1M249.55 468.5v-1" fill="none" stroke="#6e6e6e" stroke-width="0.4"/><text x="162.75" y="433.65" class="k"><tspan font-size="3.2">×</tspan><tspan dx="0.3">10</tspan><tspan dy="-1.5" font-size="2.7">4</tspan></text><text x="215.65" y="434.1" text-anchor="middle" class="t">Schumer Steiglitz</text><text transform="translate(157.15 451.7) rotate(-90)" text-anchor="middle" class="y">OF Evaluations</text></g>
<g><path d="M303.8 434.9V468.5H412.2" fill="none" stroke="#6e6e6e" stroke-width="0.5"/><rect x="316.95" y="464.7" width="14.3" height="4.15" fill="#b80000"/><rect x="333.9" y="460.3" width="14.3" height="8.55" fill="#006666"/><rect x="350.85" y="464.2" width="14.3" height="4.65" fill="#009999"/><rect x="367.8" y="440.2" width="14.3" height="28.65" fill="#00cccc"/><rect x="384.75" y="457.3" width="14.3" height="11.55" fill="#00ffff"/><text x="302.9" y="469.9" text-anchor="end" class="k">0</text><text x="302.9" y="458.7" text-anchor="end" class="k">2</text><text x="302.9" y="447.5" text-anchor="end" class="k">4</text><text x="302.9" y="436.3" text-anchor="end" class="k">6</text><text x="324.1" y="473.4" text-anchor="middle" class="k">GTA</text><text x="341.05" y="473.4" text-anchor="middle" class="k">PSO</text><text x="358" y="473.4" text-anchor="middle" class="k">SA</text><text x="374.95" y="473.4" text-anchor="middle" class="k">GA</text><text x="391.9" y="473.4" text-anchor="middle" class="k">HS</text><path d="M303.8 468.5h1M303.8 457.3h1M303.8 446.1h1M303.8 434.9h1M324.1 468.5v-1M341.05 468.5v-1M358 468.5v-1M374.95 468.5v-1M391.9 468.5v-1" fill="none" stroke="#6e6e6e" stroke-width="0.4"/><text x="305.1" y="433.65" class="k"><tspan font-size="3.2">×</tspan><tspan dx="0.3">10</tspan><tspan dy="-1.5" font-size="2.7">4</tspan></text><text x="358" y="434.1" text-anchor="middle" class="t">Sum of Powers</text><text transform="translate(299.5 451.7) rotate(-90)" text-anchor="middle" class="y">OF Evaluations</text></g>
<g><path d="M19.4 483.6V517.5H127.8" fill="none" stroke="#6e6e6e" stroke-width="0.5"/><rect x="32.55" y="510.1" width="14.3" height="7.75" fill="#b80000"/><rect x="49.5" y="488.7" width="14.3" height="29.15" fill="#006666"/><rect x="66.45" y="514.7" width="14.3" height="3.15" fill="#009999"/><rect x="83.4" y="488.7" width="14.3" height="29.15" fill="#00cccc"/><rect x="100.35" y="506.1" width="14.3" height="11.75" fill="#00ffff"/><text x="18.5" y="518.9" text-anchor="end" class="k">0</text><text x="18.5" y="507.6" text-anchor="end" class="k">2</text><text x="18.5" y="496.3" text-anchor="end" class="k">4</text><text x="18.5" y="485" text-anchor="end" class="k">6</text><text x="39.7" y="522.4" text-anchor="middle" class="k">GTA</text><text x="56.65" y="522.4" text-anchor="middle" class="k">PSO</text><text x="73.6" y="522.4" text-anchor="middle" class="k">SA</text><text x="90.55" y="522.4" text-anchor="middle" class="k">GA</text><text x="107.5" y="522.4" text-anchor="middle" class="k">HS</text><path d="M19.4 517.5h1M19.4 506.2h1M19.4 494.9h1M19.4 483.6h1M39.7 517.5v-1M56.65 517.5v-1M73.6 517.5v-1M90.55 517.5v-1M107.5 517.5v-1" fill="none" stroke="#6e6e6e" stroke-width="0.4"/><text x="20.7" y="482.35" class="k"><tspan font-size="3.2">×</tspan><tspan dx="0.3">10</tspan><tspan dy="-1.5" font-size="2.7">4</tspan></text><text x="73.6" y="482.6" text-anchor="middle" class="t">Sum of Squares</text><text transform="translate(15.1 500.55) rotate(-90)" text-anchor="middle" class="y">OF Evaluations</text></g>
<g><path d="M161.45 483.6V517.5H269.85" fill="none" stroke="#6e6e6e" stroke-width="0.5"/><rect x="174.6" y="510.1" width="14.3" height="7.75" fill="#b80000"/><rect x="191.55" y="512.7" width="14.3" height="5.15" fill="#006666"/><rect x="208.5" y="515.6" width="14.3" height="2.25" fill="#009999"/><rect x="225.45" y="489.6" width="14.3" height="28.25" fill="#00cccc"/><rect x="242.4" y="511.9" width="14.3" height="5.95" fill="#00ffff"/><text x="160.55" y="518.9" text-anchor="end" class="k">0</text><text x="160.55" y="507.6" text-anchor="end" class="k">2</text><text x="160.55" y="496.3" text-anchor="end" class="k">4</text><text x="160.55" y="485" text-anchor="end" class="k">6</text><text x="181.75" y="522.4" text-anchor="middle" class="k">GTA</text><text x="198.7" y="522.4" text-anchor="middle" class="k">PSO</text><text x="215.65" y="522.4" text-anchor="middle" class="k">SA</text><text x="232.6" y="522.4" text-anchor="middle" class="k">GA</text><text x="249.55" y="522.4" text-anchor="middle" class="k">HS</text><path d="M161.45 517.5h1M161.45 506.2h1M161.45 494.9h1M161.45 483.6h1M181.75 517.5v-1M198.7 517.5v-1M215.65 517.5v-1M232.6 517.5v-1M249.55 517.5v-1" fill="none" stroke="#6e6e6e" stroke-width="0.4"/><text x="162.75" y="482.35" class="k"><tspan font-size="3.2">×</tspan><tspan dx="0.3">10</tspan><tspan dy="-1.5" font-size="2.7">4</tspan></text><text x="215.65" y="482.6" text-anchor="middle" class="t">Zakharov</text><text transform="translate(157.15 500.55) rotate(-90)" text-anchor="middle" class="y">OF Evaluations</text></g>
<text x="213.2" y="271.2" text-anchor="middle" class="l">(<tspan font-weight="bold">a</tspan>)</text><text x="213.4" y="541" text-anchor="middle" class="l">(<tspan font-weight="bold">b</tspan>)</text>
</svg>
</body>
</html>
